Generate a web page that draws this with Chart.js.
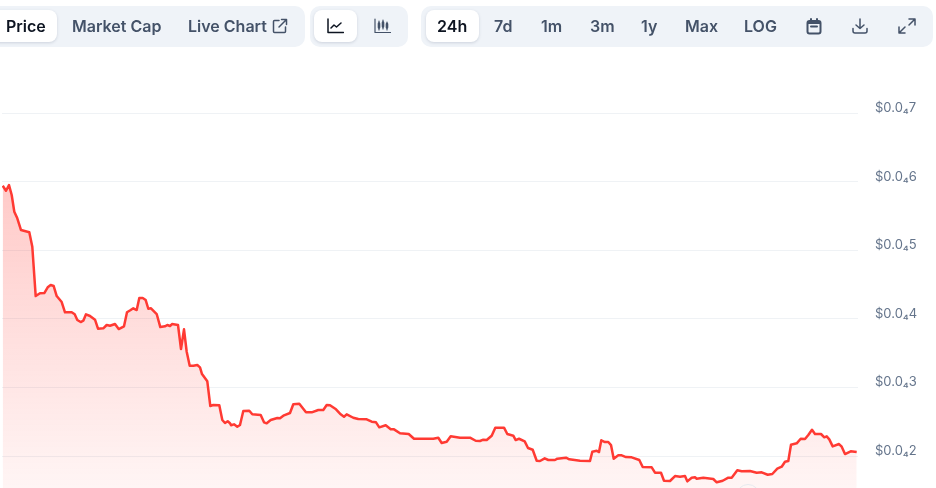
<!DOCTYPE html>
<html>
<head>
<meta charset="utf-8">
<script src="https://cdn.jsdelivr.net/npm/chart.js@4"></script>
<style>
html,body{margin:0;padding:0;background:#fff;width:936px;height:488px;overflow:hidden;font-family:Inter,sans-serif}
#wrap{position:relative;width:936px;height:488px;overflow:hidden}
canvas{position:absolute;left:0;top:0}
.grp{position:absolute;top:6px;height:41px;background:#eff3f8;border-radius:10px}
.pill{position:absolute;top:10px;height:32px;background:#fff;border-radius:8px;box-shadow:0 1px 3px rgba(88,102,126,.22)}
.t{position:absolute;top:10px;height:32px;line-height:32px;font-size:16px;font-weight:600;color:#445268;white-space:nowrap}
.t.on{color:#0d1421}
svg.i{position:absolute;fill:none;stroke:#445268;stroke-width:1.5;stroke-linecap:round;stroke-linejoin:round}
#arc{position:absolute;left:736px;top:484px;width:24px;height:24px;border:1px solid #e6e9ee;border-radius:50%;box-sizing:border-box}
</style>
</head>
<body>
<div id="wrap">
<canvas id="c" width="936" height="488"></canvas>
<div id="arc"></div>
<div class="grp" style="left:-10px;width:315px"></div>
<div class="pill" style="left:-10px;width:67px"></div>
<div class="t on" style="left:6px">Price</div>
<div class="t" style="left:72px">Market Cap</div>
<div class="t" style="left:188px">Live Chart</div>
<svg class="i" style="left:272px;top:18px" width="16" height="16" viewBox="0 0 16 16"><path d="M7 2.5H2.5a1 1 0 0 0-1 1v10a1 1 0 0 0 1 1h10a1 1 0 0 0 1-1V9M9.5 1.5h5v5M14.5 1.5 7 9"/></svg>
<div class="grp" style="left:310px;width:98px"></div>
<div class="pill" style="left:314px;width:43px"></div>
<svg class="i" style="left:327px;top:18px;stroke:#0d1421" width="17" height="16" viewBox="0 0 17 16"><path d="M1 1v13.5h15.5M4 10l3-3 2.5 2L14 5"/></svg>
<svg class="i" style="left:374px;top:18px;stroke-width:1.2" width="17" height="16" viewBox="0 0 17 16"><path d="M1 1v13.5h15.5M5 3v9M9 2v9M13 4v8"/><path d="M5 5.5v4M9 4.5v4M13 6v3.5" stroke-width="2.6"/></svg>
<div class="grp" style="left:421px;width:512px"></div>
<div class="pill" style="left:426px;width:53px"></div>
<div class="t on" style="left:437px">24h</div>
<div class="t" style="left:494px">7d</div>
<div class="t" style="left:541px">1m</div>
<div class="t" style="left:590px">3m</div>
<div class="t" style="left:641px">1y</div>
<div class="t" style="left:685px">Max</div>
<div class="t" style="left:744px">LOG</div>
<svg class="i" style="left:806px;top:18px;stroke-width:2" width="16" height="17" viewBox="0 0 16 17"><rect x="1.5" y="3" width="13" height="12.5" rx="2"/><path d="M5 1v2M11 1v2M5 8.5h6" /><path d="M2 5h12" /></svg>
<svg class="i" style="left:852px;top:18px" width="16" height="16" viewBox="0 0 16 16"><path d="M8 1v9.5M4 7l4 3.5L12 7M1 10.5V13a2 2 0 0 0 2 2h10a2 2 0 0 0 2-2v-2.5"/></svg>
<svg class="i" style="left:898px;top:18px" width="18" height="16" viewBox="0 0 18 16"><path d="M11 1h6v6M17 1l-6 6M1 9v6h6M1 15l6-6"/></svg>
</div>
<script>
const yTicks = [2, 3, 4, 5, 6, 7];
const tickLabels = ['$0.0₄2', '$0.0₄3', '$0.0₄4', '$0.0₄5', '$0.0₄6', '$0.0₄7'];
const timeSteps = [0.7,4,7,9.7,12.3,15.3,19,27.3,30.3,33.7,38,42.3,45.7,48.7,51.7,54.7,59.7,63,69.7,72.7,75.3,78.7,81.3,84,88,93,96,101.3,104.7,108,113,116.7,122,125,128.7,131.3,134.7,137.3,140.7,143.7,146.3,149,154.7,158.3,163,165.3,168,170,176,179,182,184.7,187.7,191.3,195.3,198,200,205.3,208.3,211.3,217.3,220.3,223,225.7,228,229,232,235.3,238,241.3,247.3,250.3,258.7,262,264.7,268.7,275.3,278,282,288,291.3,297.3,304,309.7,316.3,321.3,324.7,328,334,338,342,344.7,351.3,356.3,364.7,369.7,374,377.3,383.7,388.7,392,398,406.7,412,426.3,431.3,436.3,439.7,444.7,448.7,458,468,473.7,478,481.3,484.7,489.7,493.3,502,505.3,511.3,513.7,517,522.7,526,530.7,534.7,538,542.7,546.3,553,555.3,564,567.3,578,588,590.3,594.7,597,599.3,603,606.3,609,611.7,616.3,619.7,624,629.7,637.3,640.7,649.7,653,659,662,668,673,678,683,685.3,689.7,693,694.7,701.3,711.3,714.7,720.7,726.3,729.7,735.3,739.7,748,754.7,759.7,765.7,770.3,775.3,779.7,783,786.3,789,794.7,798.7,803,806.3,810,813,819,822.3,824.7,827.3,830.7,837,839.7,843,848.7,854.7];
const priceValues = [5.94,5.867,5.95,5.805,5.561,5.465,5.294,5.261,5.051,4.332,4.372,4.376,4.459,4.493,4.478,4.332,4.245,4.095,4.095,4.066,3.983,3.953,3.972,4.066,4.041,3.987,3.856,3.861,3.91,3.899,3.924,3.851,3.891,4.095,4.128,4.153,4.128,4.303,4.303,4.274,4.147,4.153,4.07,3.88,3.891,3.91,3.895,3.924,3.91,3.56,3.847,3.52,3.316,3.316,3.327,3.293,3.195,3.089,2.729,2.743,2.739,2.525,2.481,2.506,2.477,2.448,2.462,2.427,2.452,2.656,2.66,2.608,2.598,2.491,2.477,2.525,2.554,2.55,2.593,2.627,2.754,2.762,2.637,2.637,2.671,2.671,2.743,2.739,2.681,2.617,2.573,2.608,2.558,2.539,2.535,2.5,2.491,2.418,2.448,2.389,2.389,2.331,2.321,2.252,2.252,2.252,2.267,2.19,2.208,2.287,2.267,2.267,2.223,2.219,2.238,2.233,2.296,2.413,2.413,2.321,2.296,2.233,2.252,2.214,2.117,2.092,1.931,1.927,1.966,1.942,1.942,1.961,1.975,1.952,1.931,1.927,2.063,2.077,2.058,2.229,2.204,2.204,2.16,1.961,2.01,2.01,1.985,1.981,1.942,1.84,1.835,1.757,1.757,1.64,1.636,1.708,1.698,1.708,1.631,1.684,1.69,1.669,1.684,1.665,1.617,1.64,1.684,1.684,1.792,1.777,1.781,1.757,1.762,1.727,1.738,1.815,1.844,1.917,1.927,2.165,2.185,2.252,2.248,2.306,2.383,2.321,2.321,2.273,2.287,2.243,2.141,2.175,2.136,2.029,2.069,2.058];

const points = timeSteps.map((t, i) => ({ x: t, y: priceValues[i] }));

new Chart(document.getElementById('c'), {
  type: 'line',
  data: {
    datasets: [{
      data: points,
      borderColor: '#ff3a33',
      borderWidth: 2.5,
      borderJoinStyle: 'round',
      pointRadius: 0,
      tension: 0,
      fill: 'start',
      backgroundColor(ctx) {
        const a = ctx.chart.chartArea;
        if (!a) return 'rgba(255,58,51,.2)';
        const g = ctx.chart.ctx.createLinearGradient(0, a.top + 70, 0, a.bottom);
        g.addColorStop(0, 'rgba(255,58,51,.27)');
        g.addColorStop(1, 'rgba(255,58,51,.05)');
        return g;
      }
    }]
  },
  options: {
    responsive: false,
    animation: false,
    layout: { padding: { left: 2, top: 113, right: 0, bottom: 0 } },
    plugins: { legend: { display: false }, tooltip: { enabled: false } },
    scales: {
      x: { type: 'linear', min: 0, max: 856, display: false },
      y: {
        position: 'right',
        min: 1.534,
        max: 7,
        afterBuildTicks(s) { s.ticks = yTicks.map(v => ({ value: v })); },
        afterFit(s) { s.width = 78; s.paddingTop = 0; s.paddingBottom = 0; },
        border: { display: false },
        grid: { color: '#eff2f5', lineWidth: 1, drawTicks: false },
        ticks: {
          padding: 17,
          color: '#64748b',
          font: { family: 'Inter', size: 13, lineHeight: '10px' },
          callback: v => [tickLabels[yTicks.indexOf(v)], '']
        }
      }
    }
  }
});
</script>
</body>
</html>
